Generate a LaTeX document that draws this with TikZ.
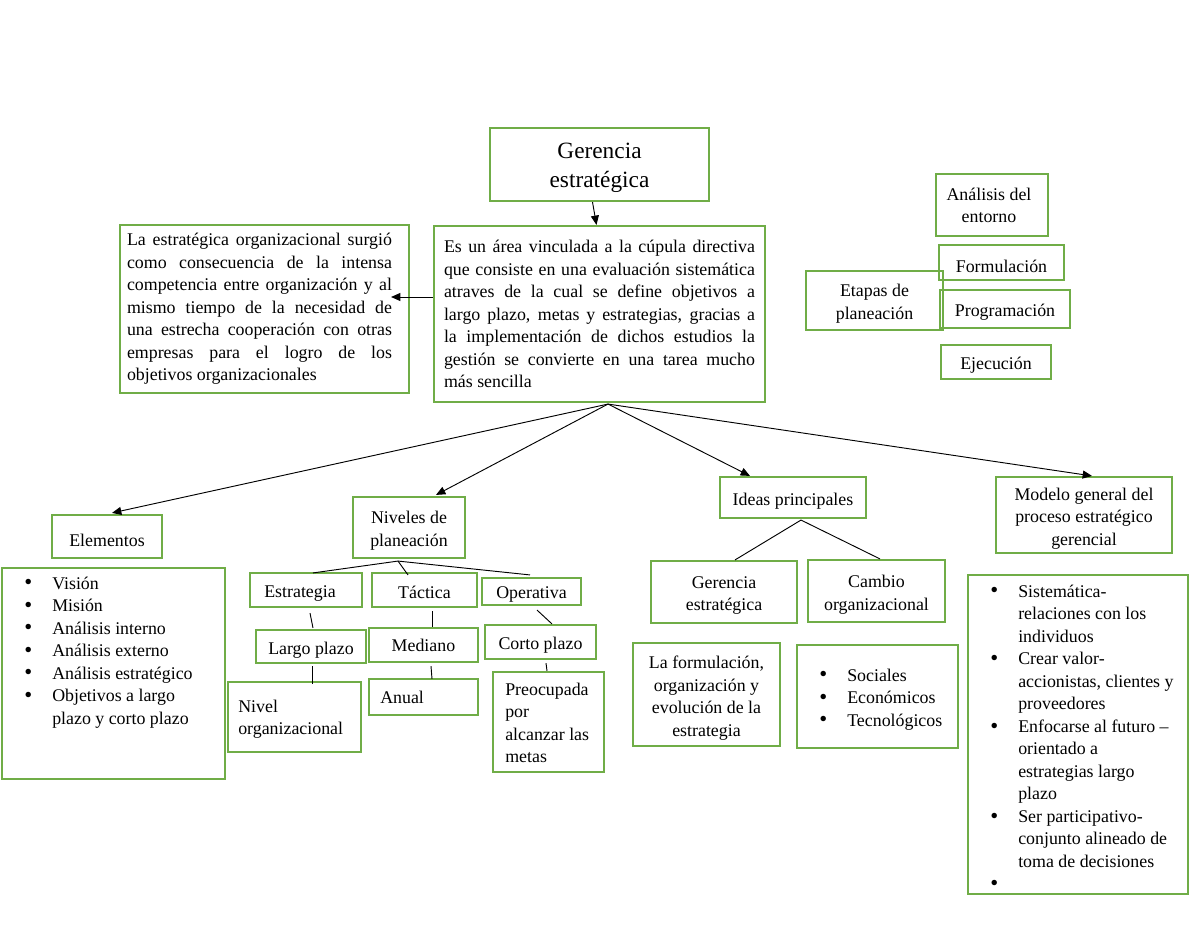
\documentclass[tikz,border=0pt]{standalone}
\usepackage{fontspec}
\setmainfont{Liberation Serif}
\usetikzlibrary{fit,calc,arrows.meta}
\definecolor{gr}{RGB}{112,173,71}
\newcommand\mybul{\makebox[21pt][l]{\raisebox{-0.6pt}{\fontsize{17pt}{16.9pt}\selectfont\textbullet}}}
\newcommand\myind{\hspace*{21pt}}
\hyphenpenalty=10000
\exhyphenpenalty=10000
\begin{document}
\begin{tikzpicture}[x=0.75pt,y=-0.75pt,
  font=\fontsize{13.4pt}{16.9pt}\selectfont,
  box/.style={draw=gr,line width=1.6pt,inner sep=0pt},
  ctext/.style={inner sep=0pt,align=center,yshift=-2.6pt},
  txt/.style={inner sep=0pt,anchor=north west},
  conn/.style={draw=black,line width=0.7pt},
  arr/.style={conn,-{Triangle[length=7pt,width=6pt]}}]
\useasboundingbox[fill=white] (0,0) rectangle (1200,927);

% top
\node[box,fit={(490,128)(709,201)}] (title) {};
\node[ctext,font=\fontsize{17.5pt}{21.75pt}\selectfont] (titletxt) at (title.center) {Gerencia\\estratégica};
\node[box,fit={(434,226)(765,402)}] (central) {};
\node[inner sep=0pt,text width=233.25pt,align=justify] (centraltxt) at (central.center)
 {Es un área vinculada a la cúpula directiva\linebreak
  que consiste en una evaluación sistemática\linebreak
  atraves de la cual se define objetivos a\linebreak
  largo plazo, metas y estrategias, gracias a\linebreak
  la implementación de dichos estudios la\linebreak
  gestión se convierte en una tarea mucho\linebreak
  más sencilla};
\node[box,fit={(120,225)(409,393)}] (leftbox) {};
\node[inner sep=0pt,text width=198.75pt,align=justify] (lefttxt) at (259.5,309)
 {La estratégica organizacional surgió\linebreak
  como consecuencia de la intensa\linebreak
  competencia entre organización y al\linebreak
  mismo tiempo de la necesidad de\linebreak
  una estrecha cooperación con otras\linebreak
  empresas para el logro de los\linebreak
  objetivos organizacionales};

% etapas
\node[box,fit={(806,271)(943,330)}] (etapas) {};
\node[ctext] (etapastxt) at (etapas.center) {Etapas de\\planeación};
\node[box,fit={(936,174)(1048,236)}] (analisis) {};
\node[ctext] (analisistxt) at ($(analisis.center)+(-3,-3)$) {Análisis del\\entorno};
\node[box,fit={(939,245)(1064,280)}] (formul) {};
\node[ctext] (formultxt) at (formul.center) {Formulación};
\node[box,fit={(940,290)(1070,328)}] (program) {};
\node[ctext] (programtxt) at (program.center) {Programación};
\node[box,fit={(941,345)(1051,379)}] (ejec) {};
\node[ctext] (ejectxt) at (ejec.center) {Ejecución};

% elementos
\node[box,fit={(52,515)(162,558)}] (elem) {};
\node[ctext] (elemtxt0) at (elem.center) {Elementos};
\node[box,fit={(2,568)(225,779)}] (elemlist) {};
\node[txt] (elemtxt) at (24,573) {\begin{tabular}{@{}l@{}}
\mybul Visión\\ \mybul Misión\\ \mybul Análisis interno\\ \mybul Análisis externo\\
\mybul Análisis estratégico\\ \mybul Objetivos a largo\\ \myind plazo y corto plazo
\end{tabular}};

% niveles
\node[box,fit={(353,497)(465,558)}] (niveles) {};
\node[ctext] (nivelestxt) at (niveles.center) {Niveles de\\planeación};
\node[box,fit={(250,573)(362,607)}] (estr) {};
\node[ctext] (estrtxt) at ($(estr.center)+(-6,0)$) {Estrategia};
\node[box,fit={(372,573)(477,607)}] (tact) {};
\node[ctext] (tacttxt) at ($(tact.center)+(0,-1)$) {Táctica};
\node[box,fit={(482,578)(581,605)}] (oper) {};
\node[ctext] (opertxt) at (oper.center) {Operativa};
\node[box,fit={(256,630)(366,663)}] (largo) {};
\node[ctext] (largotxt) at (largo.center) {Largo plazo};
\node[box,fit={(369,628)(478,662)}] (med) {};
\node[ctext] (medtxt) at ($(med.center)+(0,-3)$) {Mediano};
\node[box,fit={(485,625)(596,659)}] (corto) {};
\node[ctext] (cortotxt) at (corto.center) {Corto plazo};
\node[box,fit={(228,682)(361,752)}] (nivel) {};
\node[txt] (niveltxt) at (238,696) {\begin{tabular}{@{}l@{}}Nivel\\organizacional\end{tabular}};
\node[box,fit={(369,679)(478,715)}] (anual) {};
\node[txt] (anualtxt) at (380,687) {\begin{tabular}{@{}l@{}}Anual\end{tabular}};
\node[box,fit={(493,672)(604,772)}] (preoc) {};
\node[txt] (preoctxt) at (505,679) {\begin{tabular}{@{}l@{}}Preocupada\\por\\alcanzar las\\metas\end{tabular}};

% ideas
\node[box,fit={(720,477)(866,518)}] (ideas) {};
\node[ctext] (ideastxt) at (ideas.center) {Ideas principales};
\node[box,fit={(651,561)(797,623)}] (ger2) {};
\node[ctext] (ger2txt) at (ger2.center) {Gerencia\\estratégica};
\node[box,fit={(808,560)(945,622)}] (cambio) {};
\node[ctext] (cambiotxt) at (cambio.center) {Cambio\\organizacional};
\node[box,fit={(633,643)(780,746)}] (formlac) {};
\node[ctext] (formlactxt) at (formlac.center) {La formulación,\\organización y\\evolución de la\\estrategia};
\node[box,fit={(797,645)(958,748)}] (soc) {};
\node[txt] (soctxt) at (819,665) {\begin{tabular}{@{}l@{}}
\mybul Sociales\\ \mybul Económicos\\ \mybul Tecnológicos\end{tabular}};

% modelo
\node[box,fit={(996,477)(1172,553)}] (modelo) {};
\node[ctext] (modelotxt) at (modelo.center) {Modelo general del\\proceso estratégico\\gerencial};
\node[box,fit={(968,575)(1188,894)}] (modlist) {};
\node[txt] (modtxt) at (990,581) {\begin{tabular}{@{}l@{}}
\mybul Sistemática-\\ \myind relaciones con los\\ \myind individuos\\
\mybul Crear valor-\\ \myind accionistas, clientes y\\ \myind proveedores\\
\mybul Enfocarse al futuro --\\ \myind orientado a\\ \myind estrategias largo\\ \myind plazo\\
\mybul Ser participativo-\\ \myind conjunto alineado de\\ \myind toma de decisiones\\
\mybul
\end{tabular}};

% connectors
\draw[arr] ($(title.south)+(-7,0)$) -- ($(central.north)+(-3,0)$);
\draw[arr] ($(central.west)+(0,-17)$) -- ($(leftbox.east)+(-19,-12)$);
\coordinate (fan) at ($(central.south)+(8.5,1)$);
\draw[arr] (fan) -- ($(elem.north)+(5,-1)$);
\draw[arr] (fan) -- ($(niveles.north)+(27,-1)$);
\draw[arr] (fan) -- ($(ideas.north)+(-43,0)$);
\draw[arr] (fan) -- ($(modelo.north)+(8,0)$);

\coordinate (nv) at ($(niveles.south)+(-11,2)$);
\draw[conn] (nv) -- ($(estr.north)+(7,1)$);
\draw[conn] (nv) -- ($(tact.north)+(-16.5,3)$);
\draw[conn] (nv) -- ($(oper.north)+(-1.5,-2)$);
\draw[conn] ($(estr.south)+(4,5)$) -- ($(largo.north)+(2,-1)$);
\draw[conn] ($(tact.south)+(7.5,3)$) -- ($(med.north)+(8.5,0)$);
\draw[conn] ($(oper.south)+(5.5,4)$) -- ($(corto.north)+(11.5,0)$);
\draw[conn] ($(largo.south)+(1,2)$) -- ($(nivel.north)+(17.5,3)$);
\draw[conn] ($(med.south)+(7.5,3)$) -- ($(anual.north)+(8.5,1)$);
\draw[conn] ($(corto.south)+(5.5,3)$) -- ($(preoc.north)+(-1.5,0)$);

\coordinate (id) at ($(ideas.south)+(8,1)$);
\draw[conn] (id) -- ($(ger2.north)+(11,0)$);
\draw[conn] (id) -- ($(cambio.north)+(3.5,0)$);
\end{tikzpicture}
\end{document}
